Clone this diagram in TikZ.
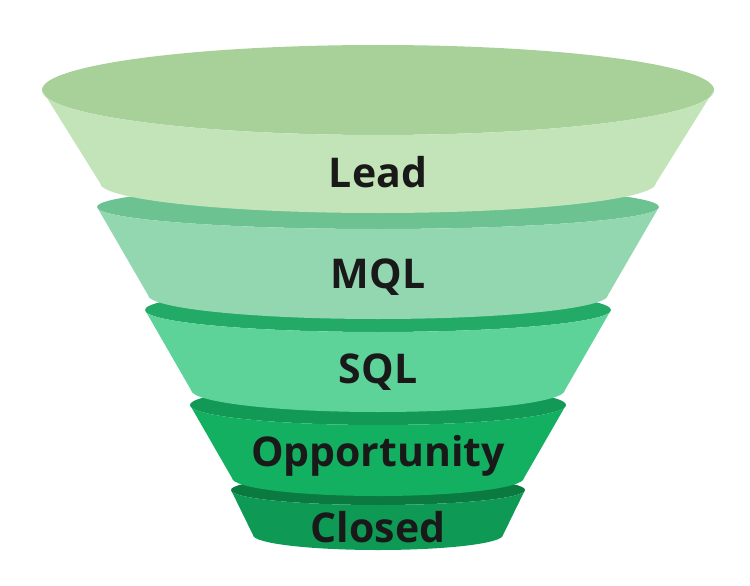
\documentclass[tikz,border=0pt]{standalone}
\usepackage{fontspec}
\setmainfont{Open Sans}
\begin{document}
\begin{tikzpicture}[x=1pt,y=-1pt,
  lbl/.style={font=\fontsize{41}{43}\selectfont\bfseries,text=black!90,inner sep=0pt}]
\useasboundingbox (0,0) rectangle (750,586);
\def\cx{378}
% layer: #1 top cy, #2 top rx, #3 top ry, #4 bot cy, #5 bot rx, #6 bot ry, #7 dark, #8 body
\newcommand\funlayer[8]{%
  \fill[#7] (\cx,#1) ellipse [x radius=#2, y radius=#3];
  \fill[#8] (\cx-#2,#1) -- (\cx-#5,#4) arc[start angle=180,end angle=0,x radius=#5,y radius=#6]
    -- (\cx+#2,#1) arc[start angle=0,end angle=180,x radius=#2,y radius=#3] -- cycle;}
\definecolor{c1a}{HTML}{A8D19A}\definecolor{c1b}{HTML}{C3E4B8}
\definecolor{c2a}{HTML}{6CC291}\definecolor{c2b}{HTML}{93D7B1}
\definecolor{c3a}{HTML}{22AA66}\definecolor{c3b}{HTML}{5DD39A}
\definecolor{c4a}{HTML}{119955}\definecolor{c4b}{HTML}{12B060}
\definecolor{c5a}{HTML}{0A7A40}\definecolor{c5b}{HTML}{0E9A55}
\funlayer{490}{147}{15}{535}{125}{15}{c5a}{c5b}
\funlayer{405}{188}{20}{478}{146}{18}{c4a}{c4b}
\funlayer{310}{233}{22}{390}{187}{22}{c3a}{c3b}
\funlayer{207}{281}{22}{295}{230}{24}{c2a}{c2b}
\funlayer{90}{336}{45}{183}{278}{30}{c1a}{c1b}
\node[lbl] (lead) at (\cx,172) {Lead};
\node[lbl] (mql) at (\cx,277) {MQL};
\node[lbl] (sql) at (\cx,372) {SQL};
\node[lbl] (opp) at (\cx,456) {Opportunity};
\node[lbl] (closed) at (\cx,527) {Closed};
\end{tikzpicture}
\end{document}
